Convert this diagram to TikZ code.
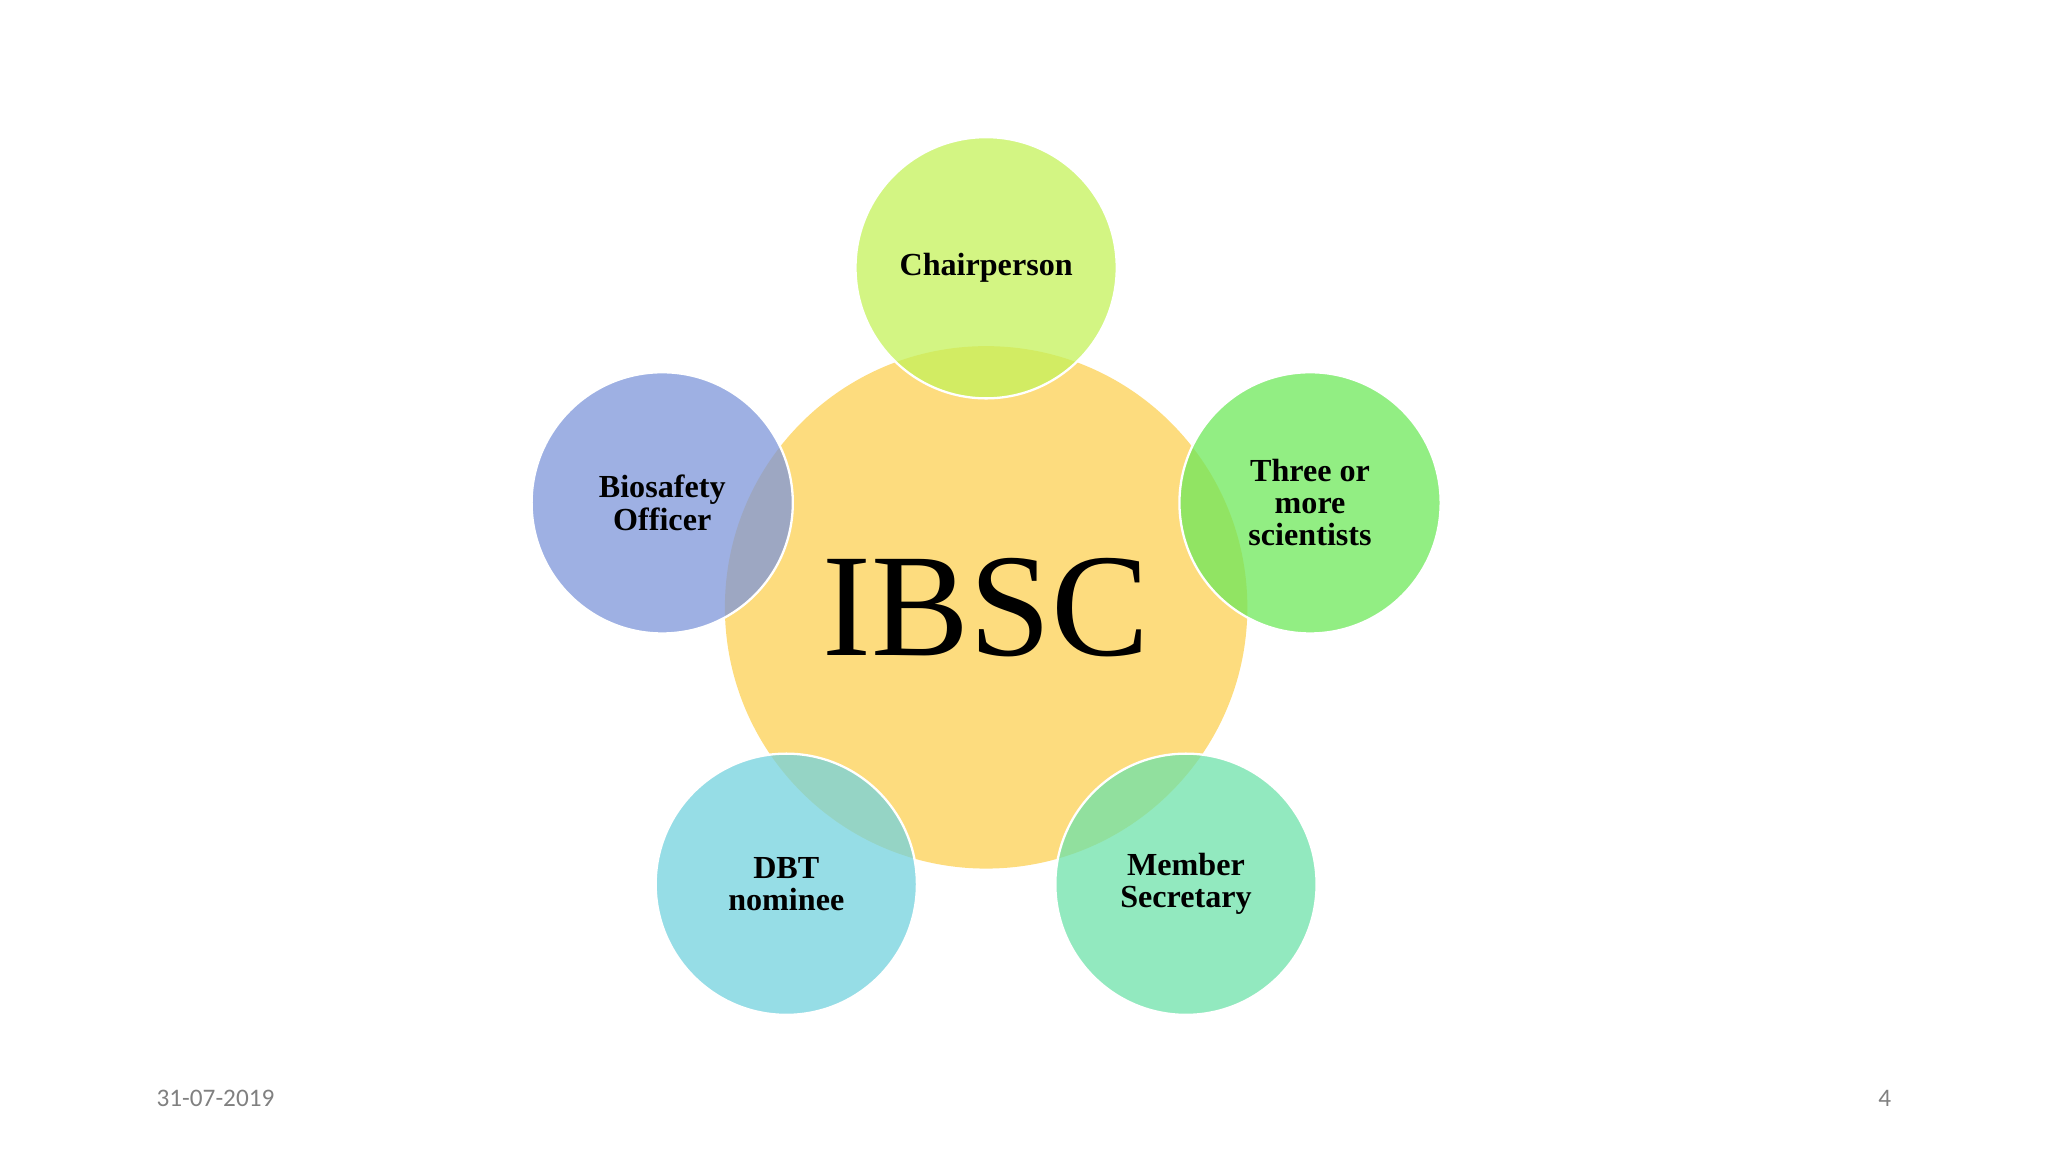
\documentclass[tikz,border=0pt]{standalone}
\usepackage{fontspec}
\setmainfont{Liberation Serif}
\newfontfamily\footfont{Carlito}
\begin{document}
\begin{tikzpicture}[x=0.02cm,y=-0.02cm,
  sat/.style={circle,minimum size=200*0.02cm,inner sep=0pt,draw=white,line width=1pt,fill opacity=0.75,text opacity=1,align=center,font=\bfseries\fontsize{14}{14}\selectfont},
  foot/.style={font=\footfont\fontsize{11}{12}\selectfont,text=gray}]
\useasboundingbox (0,0) rectangle (1568,882);
\node[circle,minimum size=400*0.02cm,inner sep=0pt,fill={rgb,255:red,253;green,220;blue,126}] (c) at (755,465) {};
\node[sat,fill={rgb,255:red,196;green,242;blue,90}] (a) at (755,205) {Chairperson};
\node[sat,fill={rgb,255:red,110;green,232;blue,90}] (b) at (1003,385) {Three or\\more\\scientists};
\node[sat,fill={rgb,255:red,110;green,226;blue,170}] (d) at (908,677) {Member\\Secretary};
\node[sat,fill={rgb,255:red,115;green,210;blue,222}] (e) at (602,677) {DBT\\nominee};
\node[sat,fill={rgb,255:red,125;green,150;blue,218}] (f) at (507,385) {Biosafety\\Officer};
\node[font=\fontsize{64}{64}\selectfont] (t) at (755,465) {IBSC};
\node[foot] (d1) at (165,841) {31-07-2019};
\node[foot] (p) at (1443,841) {4};
\end{tikzpicture}
\end{document}
